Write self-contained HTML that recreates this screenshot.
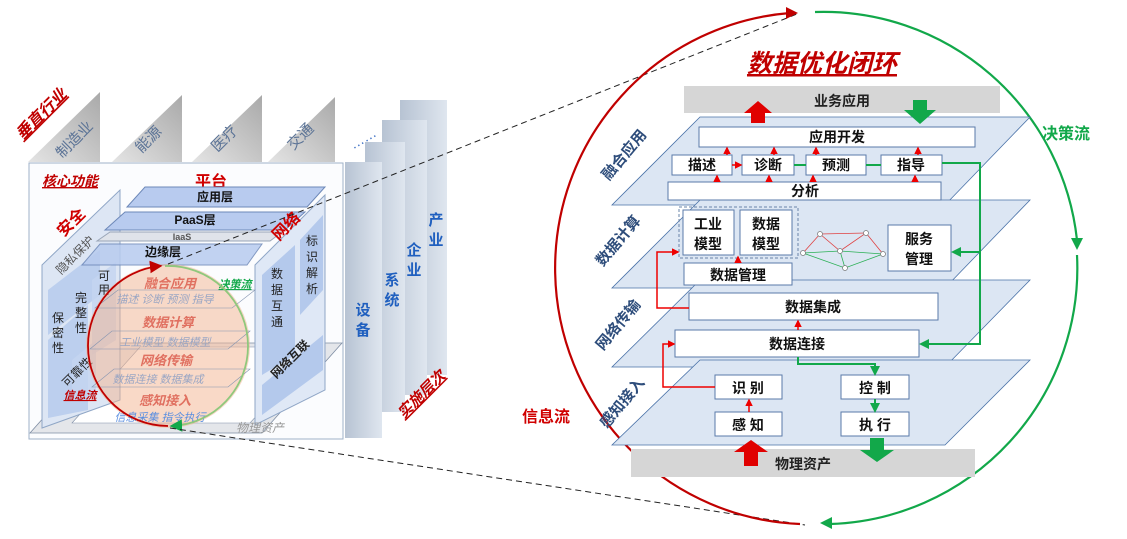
<!DOCTYPE html>
<html><head><meta charset="utf-8"><style>
html,body{margin:0;padding:0;background:#fff;}
svg{display:block;font-family:"Liberation Sans","Noto Sans CJK SC",sans-serif;}
</style></head><body>
<svg width="1127" height="539" viewBox="0 0 1127 539" xmlns="http://www.w3.org/2000/svg">
<defs>
<linearGradient id="col" x1="0" y1="0" x2="1" y2="0"><stop offset="0" stop-color="#b7c3d3"/><stop offset="1" stop-color="#dfe6ef"/></linearGradient>
<linearGradient id="tri" x1="0" y1="1" x2="1" y2="0"><stop offset="0" stop-color="#e4e4e4"/><stop offset="1" stop-color="#a9a9a9"/></linearGradient>
<marker id="ar" viewBox="0 0 10 10" refX="8" refY="5" markerWidth="5" markerHeight="5" orient="auto"><path d="M0,0L10,5L0,10z" fill="#e00"/></marker>
<marker id="ag" viewBox="0 0 10 10" refX="8" refY="5" markerWidth="5" markerHeight="5" orient="auto"><path d="M0,0L10,5L0,10z" fill="#12a84a"/></marker>
<marker id="ar2" viewBox="0 0 10 10" refX="8" refY="5" markerWidth="7" markerHeight="7" orient="auto"><path d="M0,0L10,5L0,10z" fill="#c00000"/></marker>
<marker id="ag2" viewBox="0 0 10 10" refX="8" refY="5" markerWidth="7" markerHeight="7" orient="auto"><path d="M0,0L10,5L0,10z" fill="#12a84a"/></marker>
</defs>

<polygon points="28,162 100,92 100,162" fill="url(#tri)"/>
<polygon points="112,162 182,95 182,162" fill="url(#tri)"/>
<polygon points="192,162 262,95 262,162" fill="url(#tri)"/>
<polygon points="268,162 335,97 335,162" fill="url(#tri)"/>
<g fill="#5b7396" font-size="15">
<text transform="translate(78,143) rotate(-45)" text-anchor="middle">制造业</text>
<text transform="translate(152,143) rotate(-45)" text-anchor="middle">能源</text>
<text transform="translate(228,142) rotate(-45)" text-anchor="middle">医疗</text>
<text transform="translate(304,140) rotate(-45)" text-anchor="middle">交通</text>
</g>
<text transform="translate(45,118) rotate(-45)" text-anchor="middle" fill="#c00000" font-size="16" font-weight="bold" font-style="italic" text-decoration="underline">垂直行业</text>
<text x="350" y="146" fill="#3b6fc4" font-size="14" transform="rotate(-30 358 142)">……</text>

<rect x="400" y="100" width="47" height="275" fill="url(#col)"/>
<rect x="382" y="120" width="45" height="275" fill="url(#col)"/>
<rect x="365" y="142" width="40" height="270" fill="url(#col)"/>
<rect x="345" y="162" width="37" height="276" fill="url(#col)"/>
<g fill="#1f5fbf" font-size="15" font-weight="bold" text-anchor="middle">
<text x="436" y="225">产</text><text x="436" y="245">业</text>
<text x="414" y="255">企</text><text x="414" y="275">业</text>
<text x="392" y="285">系</text><text x="392" y="305">统</text>
<text x="363" y="315">设</text><text x="363" y="335">备</text>
</g>
<text transform="translate(425,398) rotate(-45)" text-anchor="middle" fill="#c00000" font-size="15" font-weight="bold" font-style="italic" text-decoration="underline">实施层次</text>

<rect x="29" y="163" width="314" height="276" fill="#fbfcfe" stroke="#9fb2c8" stroke-width="1"/>
<text x="42" y="186" fill="#c00000" font-size="14" font-weight="bold" font-style="italic" text-decoration="underline">核心功能</text>
<text x="211" y="187" fill="#d00000" font-size="16" font-weight="bold" text-anchor="middle">平台</text>
<polygon points="30,433 262,433 342,343 110,343" fill="#e4e6ea" stroke="#7f8ea4" stroke-width="0.8"/>
<polygon points="72,423 250,423 318,347 140,347" fill="#fff" stroke="#8090a8" stroke-width="0.6"/>
<polygon points="42,265 120,190 120,400 42,428" fill="#dde6f4" stroke="#8fa6c6"/>
<polygon points="48,290 100,250 100,295 48,335" fill="#b4c9ec" opacity="0.8"/>
<polygon points="48,340 88,305 88,410 48,418" fill="#b4c9ec" opacity="0.8"/>
<polygon points="72,360 96,340 96,395 72,400" fill="#c4d5f0" opacity="0.8"/>
<polygon points="92,280 116,262 116,340 92,355" fill="#c4d5f0" opacity="0.8"/>
<polygon points="255,265 325,195 325,390 255,425" fill="#dfe8f6" stroke="#8fa6c6"/>
<polygon points="300,240 323,215 323,290 300,315" fill="#b4c9ec"/>
<polygon points="262,275 295,245 295,355 262,375" fill="#b4c9ec"/>
<polygon points="262,385 323,335 323,370 262,415" fill="#b4c9ec"/>
<polygon points="127,207 307,207 325,187 145,187" fill="#b8cbef" stroke="#6d88b8"/>
<polygon points="105,230 285,230 305,212 125,212" fill="#b8cbef" stroke="#6d88b8"/>
<polygon points="97,241 270,241 282,232 110,232" fill="#dfe3ea" stroke="#9aa6b8"/>
<polygon points="82,265 247,265 262,244 100,244" fill="#b8cbef" stroke="#6d88b8" opacity="0.85"/>
<g font-size="12" font-weight="bold" text-anchor="middle" fill="#111">
<text x="215" y="201">应用层</text><text x="195" y="224">PaaS层</text>
<text x="182" y="240" font-size="9" fill="#555">IaaS</text><text x="163" y="256">边缘层</text>
</g>
<text transform="translate(75,226) rotate(-45)" text-anchor="middle" fill="#d00000" font-size="16" font-weight="bold">安全</text>
<text transform="translate(290,230) rotate(-45)" text-anchor="middle" fill="#d00000" font-size="16" font-weight="bold">网络</text>
<g font-size="12" fill="#222" text-anchor="middle">
<text transform="translate(78,258) rotate(-45)" fill="#555">隐私保护</text>
<text x="58" y="322">保</text><text x="58" y="337">密</text><text x="58" y="352">性</text>
<text x="81" y="302">完</text><text x="81" y="317">整</text><text x="81" y="332">性</text>
<text x="104" y="280">可</text><text x="104" y="294">用</text>
<text transform="translate(80,375) rotate(-45)">可靠性</text>
<text x="312" y="245">标</text><text x="312" y="261">识</text><text x="312" y="277">解</text><text x="312" y="293">析</text>
<text x="277" y="278">数</text><text x="277" y="294">据</text><text x="277" y="310">互</text><text x="277" y="326">通</text>
<text transform="translate(293,362) rotate(-45)" font-weight="bold">网络互联</text>
</g>
<circle cx="168" cy="346" r="82" fill="#f3b48f" opacity="0.5"/>
<g stroke="#8494b0" stroke-width="0.6" fill="none">
<polygon points="95,308 232,308 255,290 118,290"/>
<polygon points="90,349 228,349 250,331 112,331"/>
<polygon points="92,387 228,387 250,369 114,369"/>
</g>
<g font-style="italic" text-anchor="middle">
<text x="170" y="288" font-size="13" font-weight="bold" fill="#e07060">融合应用</text>
<text x="165" y="303" font-size="11" fill="#9aa6c4">描述 诊断 预测 指导</text>
<text x="168" y="327" font-size="13" font-weight="bold" fill="#e07060">数据计算</text>
<text x="165" y="346" font-size="11" fill="#9aa6c4">工业模型  数据模型</text>
<text x="166" y="365" font-size="13" font-weight="bold" fill="#e07060">网络传输</text>
<text x="158" y="383" font-size="11" fill="#9aa6c4">数据连接  数据集成</text>
<text x="165" y="405" font-size="13" font-weight="bold" fill="#e07060">感知接入</text>
<text x="160" y="421" font-size="11" fill="#5a8ee0">信息采集  指令执行</text>
<text x="235" y="288" font-size="11" font-weight="bold" fill="#12a84a" text-decoration="underline">决策流</text>
<text x="80" y="399" font-size="11" font-weight="bold" fill="#c00000" text-decoration="underline">信息流</text>
<text x="260" y="432" font-size="12" fill="#999">物理资产</text>
</g>
<path d="M168,426 A80,80 0 0 1 88,346 A80,80 0 0 1 160,266" fill="none" stroke="#c00000" stroke-width="1.8" marker-end="url(#ar2)"/>
<path d="M165,266 A80,80 0 0 1 248,346 A80,80 0 0 1 172,426" fill="none" stroke="#8fc87c" stroke-width="1.8" marker-end="url(#ag2)"/>

<line x1="168" y1="264" x2="797" y2="14" stroke="#222" stroke-dasharray="6,4" stroke-width="1"/>
<line x1="170" y1="428" x2="805" y2="525" stroke="#222" stroke-dasharray="6,4" stroke-width="1"/>

<path d="M800,524 A255,256 0 0 1 790,13" fill="none" stroke="#c00000" stroke-width="2.2"/>
<polygon points="798,13 786,7 786,19" fill="#c00000"/>
<path d="M815,12 A255,256 0 0 1 1077,240" fill="none" stroke="#12a84a" stroke-width="2.2"/>
<polygon points="1077,250 1071,238 1083,238" fill="#12a84a"/>
<path d="M1077,255 A255,256 0 0 1 830,524" fill="none" stroke="#12a84a" stroke-width="2.2"/>
<polygon points="820,523 832,517 832,529" fill="#12a84a"/>
<text x="822" y="72" text-anchor="middle" fill="#c00000" font-size="25" font-weight="bold" font-style="italic" text-decoration="underline">数据优化闭环</text>
<text x="1042" y="139" fill="#12a84a" font-size="16" font-weight="bold">决策流</text>
<text x="522" y="422" fill="#d00000" font-size="16" font-weight="bold">信息流</text>

<g fill="#dce6f3" stroke="#4a72a8" stroke-width="0.8">
<polygon points="700,117 1030,117 945,205 612,205"/>
<polygon points="700,200 1030,200 945,288 612,288"/>
<polygon points="700,280 1030,280 945,367 612,367"/>
<polygon points="700,360 1030,360 945,445 612,445"/>
</g>
<g fill="#2e4d7b" font-size="15" font-weight="bold" text-anchor="middle">
<text transform="translate(628,158) rotate(-50)">融合应用</text>
<text transform="translate(622,244) rotate(-50)">数据计算</text>
<text transform="translate(622,328) rotate(-50)">网络传输</text>
<text transform="translate(626,406) rotate(-50)">感知接入</text>
</g>
<rect x="684" y="86" width="316" height="27" fill="#d6d6d6"/>
<text x="842" y="106" text-anchor="middle" font-size="14" font-weight="bold" fill="#222">业务应用</text>
<rect x="631" y="449" width="344" height="28" fill="#d6d6d6"/>
<text x="803" y="469" text-anchor="middle" font-size="14" font-weight="bold" fill="#222">物理资产</text>
<polygon points="751,123 765,123 765,113 772,113 758,101 744,113 751,113" fill="#e00000"/>
<polygon points="913,100 927,100 927,110 936,110 920,124 904,110 913,110" fill="#12a84a"/>
<polygon points="744,466 758,466 758,452 768,452 751,440 734,452 744,452" fill="#e00000"/>
<polygon points="870,438 884,438 884,450 894,450 877,462 860,450 870,450" fill="#12a84a"/>

<g fill="#fff" stroke="#5a7aa8" stroke-width="1">
<rect x="699" y="127" width="276" height="20"/>
<rect x="672" y="155" width="60" height="20"/>
<rect x="742" y="155" width="52" height="20"/>
<rect x="806" y="155" width="60" height="20"/>
<rect x="881" y="155" width="61" height="20"/>
<rect x="668" y="182" width="273" height="18"/>
<rect x="683" y="210" width="51" height="45"/>
<rect x="740" y="210" width="52" height="45"/>
<rect x="684" y="263" width="108" height="22"/>
<rect x="888" y="225" width="63" height="46"/>
<rect x="689" y="293" width="249" height="27"/>
<rect x="675" y="330" width="244" height="27"/>
<rect x="715" y="375" width="67" height="24"/>
<rect x="841" y="375" width="68" height="24"/>
<rect x="715" y="412" width="67" height="24"/>
<rect x="841" y="412" width="68" height="24"/>
</g>
<rect x="679" y="207" width="119" height="51" fill="none" stroke="#6a84a8" stroke-dasharray="3,2"/>
<g font-size="14" font-weight="bold" fill="#111" text-anchor="middle">
<text x="837" y="142">应用开发</text>
<text x="702" y="170">描述</text><text x="768" y="170">诊断</text>
<text x="836" y="170">预测</text><text x="911" y="170">指导</text>
<text x="805" y="196">分析</text>
<text x="708" y="229">工业</text><text x="708" y="249">模型</text>
<text x="766" y="229">数据</text><text x="766" y="249">模型</text>
<text x="738" y="280">数据管理</text>
<text x="919" y="244">服务</text><text x="919" y="264">管理</text>
<text x="813" y="312">数据集成</text>
<text x="797" y="349">数据连接</text>
<text x="748" y="393">识 别</text><text x="875" y="393">控 制</text>
<text x="748" y="430">感 知</text><text x="875" y="430">执 行</text>
</g>
<g stroke-width="0.8" fill="none">
<path d="M803,253 L820,234 L840,251 L866,233 L883,254" stroke="#e04040"/>
<path d="M820,234 L866,233" stroke="#e04040"/>
<path d="M803,253 L840,251 L883,254 L845,268 L803,253 M840,251 L845,268" stroke="#2bb055"/>
</g>
<g fill="#fff" stroke="#777" stroke-width="0.7">
<circle cx="803" cy="253" r="2.5"/><circle cx="820" cy="234" r="2.5"/><circle cx="840" cy="251" r="2.5"/>
<circle cx="866" cy="233" r="2.5"/><circle cx="883" cy="254" r="2.5"/><circle cx="845" cy="268" r="2.5"/>
</g>
<g stroke="#e00" stroke-width="1.5" fill="none" marker-end="url(#ar)">
<line x1="727" y1="155" x2="727" y2="148"/><line x1="774" y1="155" x2="774" y2="148"/>
<line x1="816" y1="155" x2="816" y2="148"/><line x1="918" y1="155" x2="918" y2="148"/>
<line x1="717" y1="182" x2="717" y2="176"/><line x1="769" y1="182" x2="769" y2="176"/>
<line x1="813" y1="182" x2="813" y2="176"/><line x1="915" y1="182" x2="915" y2="176"/>
<line x1="732" y1="165" x2="741" y2="165"/>
<line x1="738" y1="263" x2="738" y2="257"/>
<line x1="798" y1="330" x2="798" y2="321"/>
<line x1="749" y1="412" x2="749" y2="400"/>
<polyline points="689,308 657,308 657,252 678,252"/>
<polyline points="715,387 663,387 663,344 674,344"/>
</g>
<g stroke="#12a84a" stroke-width="2" fill="none">
<line x1="794" y1="165" x2="806" y2="165"/><line x1="866" y1="165" x2="881" y2="165"/>
<polyline points="942,163 980,163 980,344 921,344" marker-end="url(#ag)"/>
<polyline points="980,252 953,252" marker-end="url(#ag)"/>
<polyline points="798,357 798,364 875,364 875,374" marker-end="url(#ag)"/>
<polyline points="875,399 875,411" marker-end="url(#ag)"/>
</g>
</svg>
</body></html>
